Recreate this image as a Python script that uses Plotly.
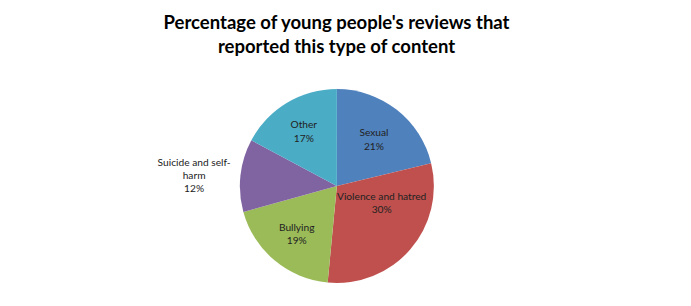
import plotly.graph_objects as go

categories = ["Sexual", "Violence and hatred", "Bullying", "Suicide and self-<br>harm", "Other"]
values = [21, 30, 19, 12, 17]
colors = ["#4F81BD", "#C0504D", "#9BBB59", "#8064A2", "#4BACC6"]
positions = ["inside", "none", "inside", "outside", "inside"]

label_font = dict(family="Lato", size=10.2, color="#222222")

fig = go.Figure(go.Pie(
    labels=categories,
    values=values,
    sort=False,
    direction="clockwise",
    rotation=0,
    marker=dict(colors=colors, line=dict(color="white", width=0)),
    texttemplate="%{label}<br>%{value}%",
    textposition=positions,
    insidetextorientation="horizontal",
    textfont=label_font,
    showlegend=False,
    hoverinfo="label+value",
    domain=dict(x=[0.347, 0.628], y=[0.075, 0.709]),
))

# label of the large red slice, placed as in the reference (Excel best-fit)
fig.add_annotation(
    text=f"{categories[1]}<br>{values[1]}%",
    x=0.552, y=0.338, xref="paper", yref="paper",
    showarrow=False, font=label_font, align="center",
)

fig.update_layout(
    width=691, height=306,
    margin=dict(l=0, r=0, t=0, b=0),
    paper_bgcolor="white",
    title=dict(
        text="<b>Percentage of young people's reviews that<br>reported this type of content</b>",
        x=0.487, xanchor="center", y=0.905, yanchor="top",
        font=dict(family="Lato", size=18.5, color="#000000"),
    ),
)

fig.write_html("out.html")
